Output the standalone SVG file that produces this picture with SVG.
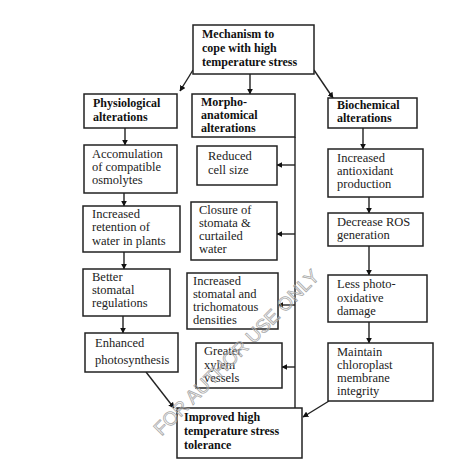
<svg xmlns="http://www.w3.org/2000/svg" width="474" height="463" viewBox="0 0 474 463">
<defs>
<marker id="ah" viewBox="0 0 10 10" refX="9" refY="5" markerWidth="6" markerHeight="6" orient="auto" markerUnits="userSpaceOnUse">
<path d="M0,0 L10,5 L0,10 z" fill="#111"/>
</marker>
</defs>
<style>
.b{fill:#fff;stroke:#222;stroke-width:1.5}
.t{font-family:"Liberation Serif","Times New Roman",serif;font-size:12.5px;fill:#222}
.h{font-family:"Liberation Serif","Times New Roman",serif;font-size:12px;font-weight:bold;fill:#111}
.c{fill:none;stroke:#222;stroke-width:1.4}
.wm{font-family:"Liberation Sans",Arial,sans-serif;font-size:19px;fill:none;stroke:#aaa;stroke-width:0.8}
</style>
<rect width="474" height="463" fill="#fff"/>
<g id="connectors">
<line class="c" x1="193" y1="70" x2="180" y2="91" marker-end="url(#ah)"/>
<line class="c" x1="250" y1="74" x2="250" y2="94" marker-end="url(#ah)"/>
<line class="c" x1="314" y1="70" x2="333" y2="98" marker-end="url(#ah)"/>
<line class="c" x1="125" y1="128" x2="125" y2="145" marker-end="url(#ah)"/>
<line class="c" x1="124" y1="193" x2="124" y2="206" marker-end="url(#ah)"/>
<line class="c" x1="124" y1="252" x2="124" y2="269" marker-end="url(#ah)"/>
<line class="c" x1="123" y1="316" x2="123" y2="333" marker-end="url(#ah)"/>
<line class="c" x1="146" y1="372" x2="174" y2="408" marker-end="url(#ah)"/>
<line class="c" x1="295" y1="137" x2="295" y2="408"/>
<line class="c" x1="295" y1="165" x2="277" y2="165" marker-end="url(#ah)"/>
<line class="c" x1="295" y1="234" x2="277" y2="234" marker-end="url(#ah)"/>
<line class="c" x1="295" y1="305" x2="278" y2="305" marker-end="url(#ah)"/>
<line class="c" x1="295" y1="367" x2="282" y2="367" marker-end="url(#ah)"/>
<line class="c" x1="363" y1="128" x2="363" y2="149" marker-end="url(#ah)"/>
<line class="c" x1="369" y1="197" x2="369" y2="213" marker-end="url(#ah)"/>
<line class="c" x1="369" y1="246" x2="369" y2="275" marker-end="url(#ah)"/>
<line class="c" x1="369" y1="322" x2="369" y2="343" marker-end="url(#ah)"/>
<line class="c" x1="329" y1="401" x2="303" y2="417" marker-end="url(#ah)"/>
</g>
<g id="top">
<rect class="b" x="193" y="25" width="121" height="49"/>
<text class="h" x="202" y="38">Mechanism to</text>
<text class="h" x="202" y="52">cope with high</text>
<text class="h" x="202" y="66">temperature stress</text>
</g>
<g id="physio">
<rect class="b" x="84" y="94" width="93" height="34"/>
<text class="h" x="93" y="107">Physiological</text>
<text class="h" x="93" y="121">alterations</text>
</g>
<g id="morpho">
<rect class="b" x="192" y="94" width="103" height="43"/>
<text class="h" x="201" y="106">Morpho-</text>
<text class="h" x="201" y="119">anatomical</text>
<text class="h" x="201" y="132">alterations</text>
</g>
<g id="biochem">
<rect class="b" x="328" y="98" width="89" height="30"/>
<text class="h" x="337" y="109">Biochemical</text>
<text class="h" x="337" y="122">alterations</text>
</g>
<g id="accum">
<rect class="b" x="84" y="145" width="93" height="48"/>
<text class="t" x="92" y="158">Accomulation</text>
<text class="t" x="92" y="171">of compatible</text>
<text class="t" x="92" y="184">osmolytes</text>
</g>
<g id="retention">
<rect class="b" x="83" y="206" width="97" height="46"/>
<text class="t" x="92" y="218">Increased</text>
<text class="t" x="92" y="231">retention of</text>
<text class="t" x="92" y="245">water in plants</text>
</g>
<g id="better">
<rect class="b" x="83" y="269" width="87" height="47"/>
<text class="t" x="92" y="281">Better</text>
<text class="t" x="92" y="294">stomatal</text>
<text class="t" x="92" y="307">regulations</text>
</g>
<g id="enhanced">
<rect class="b" x="85" y="333" width="93" height="39"/>
<text class="t" x="95" y="347">Enhanced</text>
<text class="t" x="95" y="364">photosynthesis</text>
</g>
<g id="reduced">
<rect class="b" x="197" y="146" width="80" height="39"/>
<text class="t" x="208" y="160">Reduced</text>
<text class="t" x="208" y="174">cell size</text>
</g>
<g id="closure">
<rect class="b" x="191" y="202" width="86" height="58"/>
<text class="t" x="199" y="214">Closure of</text>
<text class="t" x="199" y="227">stomata &amp;</text>
<text class="t" x="199" y="240">curtailed</text>
<text class="t" x="199" y="253">water</text>
</g>
<g id="stomatal">
<rect class="b" x="187" y="273" width="91" height="56"/>
<text class="t" x="193" y="285">Increased</text>
<text class="t" x="193" y="298">stomatal and</text>
<text class="t" x="193" y="311">trichomatous</text>
<text class="t" x="193" y="324">densities</text>
</g>
<g id="xylem">
<rect class="b" x="196" y="343" width="86" height="45"/>
<text class="t" x="204" y="355">Greater</text>
<text class="t" x="204" y="369">xylem</text>
<text class="t" x="204" y="382">vessels</text>
</g>
<g id="antiox">
<rect class="b" x="328" y="149" width="95" height="48"/>
<text class="t" x="337" y="162">Increased</text>
<text class="t" x="337" y="175">antioxidant</text>
<text class="t" x="337" y="188">production</text>
</g>
<g id="ros">
<rect class="b" x="328" y="213" width="95" height="33"/>
<text class="t" x="337" y="226">Decrease ROS</text>
<text class="t" x="337" y="239">generation</text>
</g>
<g id="lessphoto">
<rect class="b" x="328" y="275" width="99" height="47"/>
<text class="t" x="337" y="288">Less photo-</text>
<text class="t" x="337" y="302">oxidative</text>
<text class="t" x="337" y="315">damage</text>
</g>
<g id="maintain">
<rect class="b" x="328" y="343" width="105" height="58"/>
<text class="t" x="337" y="356">Maintain</text>
<text class="t" x="337" y="369">chloroplast</text>
<text class="t" x="337" y="382">membrane</text>
<text class="t" x="337" y="395">integrity</text>
</g>
<g id="improved">
<rect class="b" x="177" y="408" width="125" height="50"/>
<text class="h" x="184" y="421">Improved high</text>
<text class="h" x="184" y="435">temperature stress</text>
<text class="h" x="184" y="449">tolerance</text>
</g>
<text class="wm" x="241" y="357" text-anchor="middle" transform="rotate(-45 241 357)">FOR AUTHOR USE ONLY</text>
</svg>
